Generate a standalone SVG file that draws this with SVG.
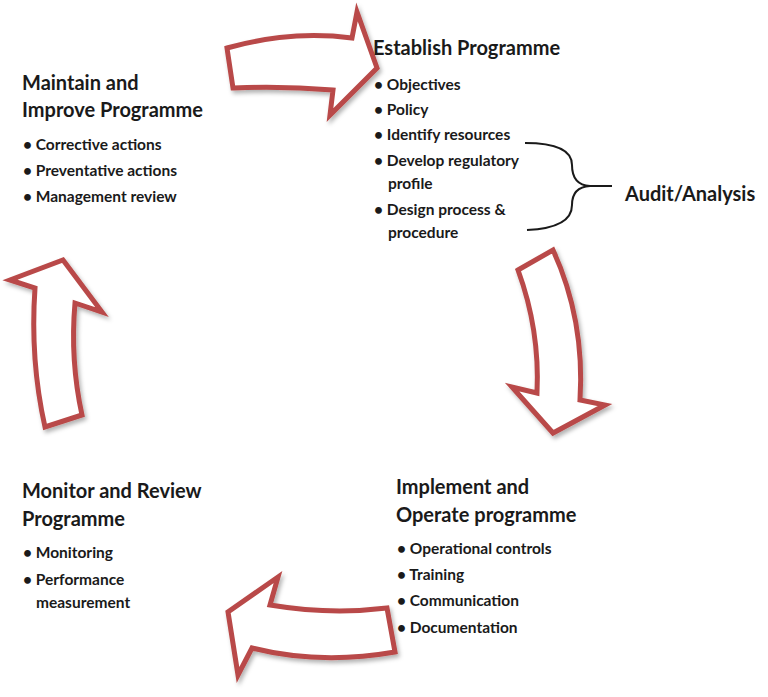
<svg xmlns="http://www.w3.org/2000/svg" width="768" height="697" viewBox="0 0 768 697">
<defs>
<filter id="sh" x="-20%" y="-20%" width="140%" height="140%"><feDropShadow dx="2" dy="3" stdDeviation="2" flood-color="#000" flood-opacity="0.3"/></filter>
<style>
text{font-family:Lato,"Open Sans","Liberation Sans",sans-serif;font-weight:bold;fill:#1a1a1a}
.h{font-size:20px}
.b{font-size:15.5px}
.arr{fill:#fff;stroke:#b94a48;stroke-width:5;stroke-linejoin:miter;filter:url(#sh)}
</style>
</defs>
<rect width="768" height="697" fill="#fff"/>
<g id="connectors">
<path class="arr" d="M227,48 Q290,30 352,38 L357,12 L377,68 L330,115 L333,90 Q283,86 233,88 Z"/>
<path class="arr" d="M518,270 L553,250 Q585,320 580,400 L605,405 L553,433 L512,387 L537,393 Q540,330 518,270 Z"/>
<path class="arr" d="M278,577 L270,605 Q330,615 387,608 L395,652 Q320,665 252,648 L238,675 L228,612 Z"/>
<path class="arr" d="M63,260 L102,312 L75,303 Q70,360 82,415 L45,427 Q30,360 35,288 L10,280 Z"/>
<path d="M525,143 Q572,143 572,165 Q572,185 590,186 L612,186 M590,186 Q572,187 572,205 Q572,228 527,230" fill="none" stroke="#1a1a1a" stroke-width="2"/>
</g>
<g id="establish">
<text class="h" x="373" y="55">Establish Programme</text>
<text class="b" x="374" y="90">• Objectives</text>
<text class="b" x="374" y="115">• Policy</text>
<text class="b" x="374" y="140">• Identify resources</text>
<text class="b" x="374" y="166">• Develop regulatory</text>
<text class="b" x="388" y="189">profile</text>
<text class="b" x="374" y="215">• Design process &amp;</text>
<text class="b" x="388" y="238">procedure</text>
</g>
<g id="audit"><text class="h" x="625" y="201">Audit/Analysis</text></g>
<g id="maintain">
<text class="h" x="22" y="90">Maintain and</text>
<text class="h" x="22" y="117">Improve Programme</text>
<text class="b" x="23" y="150">• Corrective actions</text>
<text class="b" x="23" y="176">• Preventative actions</text>
<text class="b" x="23" y="202">• Management review</text>
</g>
<g id="monitor">
<text class="h" x="22" y="498">Monitor and Review</text>
<text class="h" x="22" y="526">Programme</text>
<text class="b" x="23" y="558">• Monitoring</text>
<text class="b" x="23" y="585">• Performance</text>
<text class="b" x="36" y="608">measurement</text>
</g>
<g id="implement">
<text class="h" x="396" y="494">Implement and</text>
<text class="h" x="396" y="522">Operate programme</text>
<text class="b" x="397" y="554">• Operational controls</text>
<text class="b" x="397" y="580">• Training</text>
<text class="b" x="397" y="606">• Communication</text>
<text class="b" x="397" y="633">• Documentation</text>
</g>
</svg>
